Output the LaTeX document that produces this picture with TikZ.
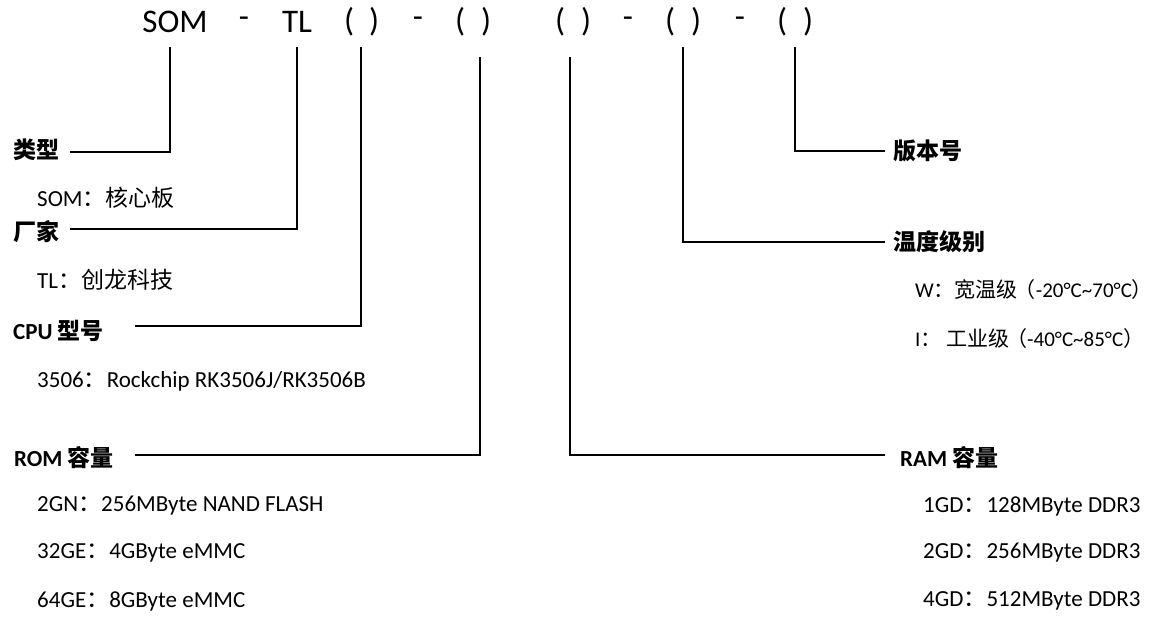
\documentclass[tikz,border=0pt]{standalone}
\usepackage{fontspec}
\setmainfont{Carlito}
\newfontfamily\cjk{Noto Sans CJK SC}
\begin{document}
\begin{tikzpicture}[x=1pt,y=-1pt,
  hd/.style={font=\fontsize{33}{36}\selectfont,anchor=center},
  lb/.style={font=\fontsize{23}{26}\selectfont\bfseries,anchor=west,inner sep=0},
  tx/.style={font=\fontsize{23}{26}\selectfont,anchor=west,inner sep=0},
  ln/.style={line width=1.2pt}]
\useasboundingbox (0,0) rectangle (1160,624);
\node[hd] (h1) at (175,22) {SOM};
\node[hd] at (244,22) {-};
\node[hd] (h2) at (297,22) {TL};
\node[hd] at (349,22) {(};\node[hd] at (374,22) {)};
\node[hd] at (418,22) {-};
\node[hd] at (460,22) {(};\node[hd] at (486,22) {)};
\node[hd] at (560,22) {(};\node[hd] at (586,22) {)};
\node[hd] at (628,22) {-};
\node[hd] at (670,22) {(};\node[hd] at (696,22) {)};
\node[hd] at (740,22) {-};
\node[hd] at (782,22) {(};\node[hd] at (808,22) {)};
% labels
\node[lb] (a) at (13,150) {\cjk 类型};
\node[lb] (b) at (13,232) {\cjk 厂家};
\node[lb] (c) at (13,331) {CPU {\cjk 型号}};
\node[lb] (d) at (14,458) {ROM {\cjk 容量}};
\node[lb] (e) at (900,458) {RAM {\cjk 容量}};
\node[lb] (f) at (893,242) {\cjk 温度级别};
\node[lb] (g) at (893,151) {\cjk 版本号};
% connectors
\coordinate (t1) at (170,47);\coordinate (t2) at (297,47);\coordinate (t3) at (361,47);
\coordinate (t4) at (480,57);\coordinate (t5) at (570,57);\coordinate (t6) at (683,47);\coordinate (t7) at (795,47);
\draw[ln] (70,152) -| (t1);
\draw[ln] (70,229) -| (t2);
\draw[ln] (135,326) -| (t3);
\draw[ln] (135,455) -| (t4);
\draw[ln] (885,455) -| (t5);
\draw[ln] (885,242) -| (t6);
\draw[ln] (885,151) -| (t7);
% items
\node[tx] at (37,198) {SOM{\cjk ：核心板}};
\node[tx] at (37,280) {TL{\cjk ：创龙科技}};
\node[tx] at (37,381) {3506{\cjk ：}Rockchip RK3506J/RK3506B};
\node[tx] at (37,506) {2GN{\cjk ：}256MByte NAND FLASH};
\node[tx] at (37,553) {32GE{\cjk ：}4GByte eMMC};
\node[tx] at (37,601) {64GE{\cjk ：}8GByte eMMC};
\node[tx,font=\fontsize{21}{24}\selectfont] at (915,290) {W{\cjk ：宽温级}{\cjk\kern-3pt（}-20°C\textasciitilde70°C{\cjk ）}};
\node[tx,font=\fontsize{21}{24}\selectfont] at (915,339) {I{\cjk ：\ 工业级}{\cjk\kern-3pt（}-40°C\textasciitilde85°C{\cjk ）}};
\node[tx] at (923,506) {1GD{\cjk ：}128MByte DDR3};
\node[tx] at (923,553) {2GD{\cjk ：}256MByte DDR3};
\node[tx] at (923,601) {4GD{\cjk ：}512MByte DDR3};
\end{tikzpicture}
\end{document}
